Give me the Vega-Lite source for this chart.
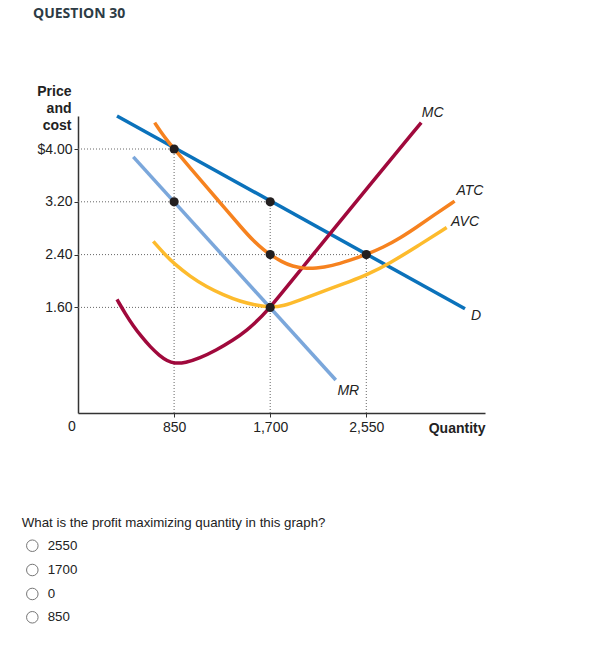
{
  "$schema": "https://vega.github.io/schema/vega-lite/v6.json",
  "width": 407,
  "height": 297,
  "autosize": {"type": "none"},
  "padding": {"left": 78, "top": 116, "right": 108, "bottom": 239},
  "background": "white",
  "config": {
    "view": {"stroke": null},
    "font": "Liberation Sans"
  },
  "title": {
    "text": "QUESTION 30",
    "anchor": "start",
    "frame": "group",
    "font": "Open Sans",
    "fontSize": 14,
    "fontWeight": "bold",
    "color": "#2d3b45",
    "dx": -45,
    "offset": 63
  },
  "datasets": {
    "guides": [
      {"q1": 0, "q2": 850, "p1": 4.0, "p2": 4.0},
      {"q1": 0, "q2": 1700, "p1": 3.2, "p2": 3.2},
      {"q1": 0, "q2": 2550, "p1": 2.4, "p2": 2.4},
      {"q1": 0, "q2": 1700, "p1": 1.6, "p2": 1.6},
      {"q1": 850, "q2": 850, "p1": 0, "p2": 4.0},
      {"q1": 1700, "q2": 1700, "p1": 0, "p2": 3.2},
      {"q1": 2550, "q2": 2550, "p1": 0, "p2": 2.4}
    ],
    "curves": [
      {"curve": "D", "q": 345, "p": 4.5},
      {"curve": "D", "q": 3423, "p": 1.58},
      {"curve": "MR", "q": 489, "p": 3.88},
      {"curve": "MR", "q": 2280, "p": 0.5},
      {"curve": "MC", "q": 345, "p": 1.72},
      {"curve": "MC", "q": 420, "p": 1.5},
      {"curve": "MC", "q": 489, "p": 1.32},
      {"curve": "MC", "q": 560, "p": 1.16},
      {"curve": "MC", "q": 640, "p": 1.0},
      {"curve": "MC", "q": 720, "p": 0.87},
      {"curve": "MC", "q": 790, "p": 0.79},
      {"curve": "MC", "q": 850, "p": 0.75},
      {"curve": "MC", "q": 950, "p": 0.76},
      {"curve": "MC", "q": 1076, "p": 0.83},
      {"curve": "MC", "q": 1220, "p": 0.95},
      {"curve": "MC", "q": 1370, "p": 1.1},
      {"curve": "MC", "q": 1500, "p": 1.26},
      {"curve": "MC", "q": 1600, "p": 1.42},
      {"curve": "MC", "q": 1700, "p": 1.6},
      {"curve": "MC", "q": 1960, "p": 2.15},
      {"curve": "MC", "q": 2225, "p": 2.71},
      {"curve": "MC", "q": 2550, "p": 3.39},
      {"curve": "MC", "q": 3036, "p": 4.4},
      {"curve": "ATC", "q": 678, "p": 4.4},
      {"curve": "ATC", "q": 760, "p": 4.19},
      {"curve": "ATC", "q": 850, "p": 4.0},
      {"curve": "ATC", "q": 1000, "p": 3.7},
      {"curve": "ATC", "q": 1150, "p": 3.4},
      {"curve": "ATC", "q": 1300, "p": 3.1},
      {"curve": "ATC", "q": 1450, "p": 2.8},
      {"curve": "ATC", "q": 1550, "p": 2.61},
      {"curve": "ATC", "q": 1650, "p": 2.46},
      {"curve": "ATC", "q": 1700, "p": 2.4},
      {"curve": "ATC", "q": 1800, "p": 2.29},
      {"curve": "ATC", "q": 1900, "p": 2.22},
      {"curve": "ATC", "q": 2000, "p": 2.19},
      {"curve": "ATC", "q": 2100, "p": 2.19},
      {"curve": "ATC", "q": 2250, "p": 2.23},
      {"curve": "ATC", "q": 2400, "p": 2.31},
      {"curve": "ATC", "q": 2550, "p": 2.4},
      {"curve": "ATC", "q": 2700, "p": 2.51},
      {"curve": "ATC", "q": 2850, "p": 2.65},
      {"curve": "ATC", "q": 3000, "p": 2.82},
      {"curve": "ATC", "q": 3150, "p": 3.0},
      {"curve": "ATC", "q": 3331, "p": 3.21},
      {"curve": "AVC", "q": 666, "p": 2.6},
      {"curve": "AVC", "q": 770, "p": 2.4},
      {"curve": "AVC", "q": 852, "p": 2.26},
      {"curve": "AVC", "q": 991, "p": 2.07},
      {"curve": "AVC", "q": 1138, "p": 1.91},
      {"curve": "AVC", "q": 1285, "p": 1.79},
      {"curve": "AVC", "q": 1433, "p": 1.69},
      {"curve": "AVC", "q": 1580, "p": 1.63},
      {"curve": "AVC", "q": 1700, "p": 1.6},
      {"curve": "AVC", "q": 1820, "p": 1.62},
      {"curve": "AVC", "q": 1961, "p": 1.71},
      {"curve": "AVC", "q": 2100, "p": 1.8},
      {"curve": "AVC", "q": 2258, "p": 1.9},
      {"curve": "AVC", "q": 2400, "p": 1.99},
      {"curve": "AVC", "q": 2553, "p": 2.09},
      {"curve": "AVC", "q": 2759, "p": 2.27},
      {"curve": "AVC", "q": 2996, "p": 2.52},
      {"curve": "AVC", "q": 3261, "p": 2.81}
    ],
    "dots": [
      {"q": 850, "p": 4.0},
      {"q": 850, "p": 3.2},
      {"q": 1700, "p": 3.2},
      {"q": 1700, "p": 2.4},
      {"q": 1700, "p": 1.6},
      {"q": 2550, "p": 2.4}
    ],
    "labels": [
      {"label": "MC", "q": 3137, "p": 4.55},
      {"label": "ATC", "q": 3467, "p": 3.37},
      {"label": "AVC", "q": 3423, "p": 2.9},
      {"label": "D", "q": 3520, "p": 1.47},
      {"label": "MR", "q": 2391, "p": 0.33}
    ],
    "question": [
      {"text": "What is the profit maximizing quantity in this graph?", "q": -498, "p": -1.662}
    ],
    "options": [
      {"text": "2550", "q": -404, "lq": -268, "p": -2.011},
      {"text": "1700", "q": -404, "lq": -268, "p": -2.379},
      {"text": "0", "q": -404, "lq": -268, "p": -2.742},
      {"text": "850", "q": -404, "lq": -268, "p": -3.095}
    ],
    "origin": [
      {"text": "0", "q": 0, "p": 0}
    ]
  },
  "encoding": {
    "x": {
      "field": "q",
      "type": "quantitative",
      "scale": {"domain": [0, 3600], "nice": false, "zero": false},
      "axis": {
        "values": [850, 1700, 2550],
        "labelExpr": "format(datum.value, ',')",
        "grid": false,
        "domainColor": "#333",
        "domainWidth": 1.5,
        "tickColor": "#333",
        "tickSize": 4,
        "labelFontSize": 14,
        "labelColor": "#222",
        "labelPadding": 3,
        "title": "Quantity",
        "titleFontSize": 14,
        "titleFontWeight": "bold",
        "titleColor": "#222",
        "titleAnchor": "end",
        "titleAlign": "right",
        "titleBaseline": "alphabetic",
        "titleX": 407,
        "titleY": 19
      }
    },
    "y": {
      "field": "p",
      "type": "quantitative",
      "scale": {"domain": [0, 4.5], "nice": false, "zero": false},
      "axis": {
        "values": [1.6, 2.4, 3.2, 4.0],
        "labelExpr": "datum.value == 4 ? '$4.00' : format(datum.value, '.2f')",
        "grid": false,
        "domainColor": "#333",
        "domainWidth": 1.5,
        "tickColor": "#333",
        "tickSize": 4,
        "labelFontSize": 14,
        "labelColor": "#222",
        "labelPadding": 2,
        "title": ["Price", "and", "cost"],
        "titleFontSize": 14,
        "titleFontWeight": "bold",
        "titleColor": "#222",
        "titleAngle": 0,
        "titleAlign": "right",
        "titleBaseline": "alphabetic",
        "titleLineHeight": 17,
        "titleX": -7,
        "titleY": -21
      }
    }
  },
  "layer": [
    {
      "data": {"name": "guides"},
      "mark": {"type": "rule", "color": "#666", "strokeWidth": 1, "strokeDash": [1, 2]},
      "encoding": {
        "x": {"field": "q1", "type": "quantitative"},
        "x2": {"field": "q2"},
        "y": {"field": "p1", "type": "quantitative"},
        "y2": {"field": "p2"}
      }
    },
    {
      "data": {"name": "curves"},
      "mark": {"type": "line", "strokeWidth": 3.5, "interpolate": "basis", "clip": false},
      "encoding": {
        "color": {
          "field": "curve",
          "type": "nominal",
          "scale": {
            "domain": ["D", "MR", "MC", "ATC", "AVC"],
            "range": ["#0b72bb", "#7ba7db", "#a0093c", "#f6821f", "#fdbb2d"]
          },
          "legend": null
        },
        "order": {"field": "q", "type": "quantitative"}
      }
    },
    {
      "data": {"name": "dots"},
      "mark": {"type": "point", "filled": true, "shape": "circle", "size": 85, "color": "#231f20", "opacity": 1}
    },
    {
      "data": {"name": "labels"},
      "mark": {"type": "text", "fontSize": 14, "fontStyle": "italic", "color": "#222", "align": "center", "baseline": "middle", "clip": false},
      "encoding": {"text": {"field": "label"}}
    },
    {
      "data": {"name": "origin"},
      "mark": {"type": "text", "fontSize": 14, "color": "#222", "align": "center", "baseline": "middle", "dx": -6, "dy": 14},
      "encoding": {"text": {"field": "text"}}
    },
    {
      "data": {"name": "question"},
      "mark": {"type": "text", "fontSize": 13.3, "color": "#222", "align": "left", "baseline": "middle", "clip": false},
      "encoding": {"text": {"field": "text"}}
    },
    {
      "data": {"name": "options"},
      "mark": {"type": "point", "shape": "circle", "size": 133, "filled": false, "color": "#767676", "strokeWidth": 1, "opacity": 1}
    },
    {
      "data": {"name": "options"},
      "mark": {"type": "text", "fontSize": 13.3, "color": "#222", "align": "left", "baseline": "middle"},
      "encoding": {
        "x": {"field": "lq", "type": "quantitative"},
        "text": {"field": "text"}
      }
    }
  ]
}
